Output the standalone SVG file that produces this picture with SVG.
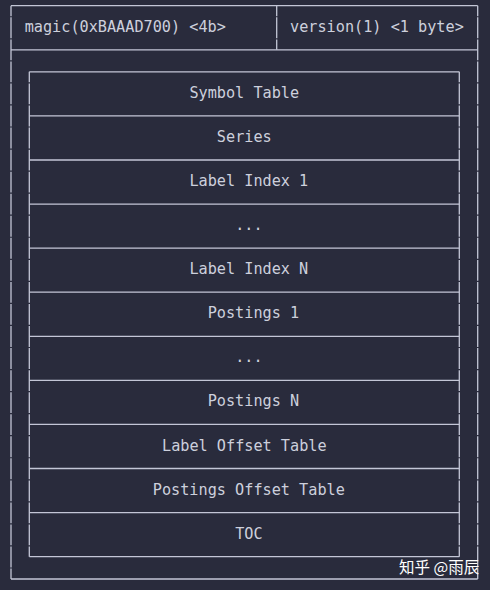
<svg xmlns="http://www.w3.org/2000/svg" width="490" height="590" viewBox="0 0 490 590">
<style>
.bg{fill:#292b3c}
.h{stroke:#c3c6d6;stroke-width:1.3;fill:none}
.v{stroke:#c3c6d6;stroke-width:1.3;fill:none;stroke-dasharray:20.85 1.2;stroke-dashoffset:10.42}
.t{font-family:"DejaVu Sans Mono","Liberation Mono",monospace;font-size:15.2px;fill:#cdd0dc}
.wm{font-family:"Noto Sans CJK SC","Noto Sans",sans-serif;font-size:15.5px;fill:#ffffff}
</style>
<rect class="bg" x="0" y="0" width="490" height="590"/>
<g id="connectors">
<path class="h" d="M11 5.7H477.7M11 49.8H477.7M11 579H477.7"/>
<path class="v" d="M11 5.7V579M477.7 5.7V579M276.7 5.7V49.8"/>
<path class="h" d="M29.3 71.85H459.3M29.3 115.95H459.3M29.3 160H459.3M29.3 204.1H459.3M29.3 248.15H459.3M29.3 292.2H459.3M29.3 336.3H459.3M29.3 380.35H459.3M29.3 424.4H459.3M29.3 468.5H459.3M29.3 512.55H459.3M29.3 556.65H459.3"/>
<path class="v" d="M29.3 71.85V556.65M459.3 71.85V556.65"/>
</g>
<g id="header">
<text class="t" x="24.7" y="32">magic(0xBAAAD700) &lt;4b&gt;</text>
<text class="t" x="290.05" y="32">version(1) &lt;1 byte&gt;</text>
</g>
<g id="symbol-table"><text class="t" x="189.4" y="98">Symbol Table</text></g>
<g id="series"><text class="t" x="216.85" y="142">Series</text></g>
<g id="label-index-1"><text class="t" x="189.4" y="186.1">Label Index 1</text></g>
<g id="ellipsis-1"><text class="t" x="235.15" y="230.2">...</text></g>
<g id="label-index-n"><text class="t" x="189.4" y="274.3">Label Index N</text></g>
<g id="postings-1"><text class="t" x="207.7" y="318.3">Postings 1</text></g>
<g id="ellipsis-2"><text class="t" x="235.15" y="362.4">...</text></g>
<g id="postings-n"><text class="t" x="207.7" y="406.4">Postings N</text></g>
<g id="label-offset-table"><text class="t" x="162" y="450.5">Label Offset Table</text></g>
<g id="postings-offset-table"><text class="t" x="152.8" y="494.6">Postings Offset Table</text></g>
<g id="toc"><text class="t" x="235.15" y="538.6">TOC</text></g>
<text class="wm" x="399" y="573">知乎 @雨辰</text>
</svg>
